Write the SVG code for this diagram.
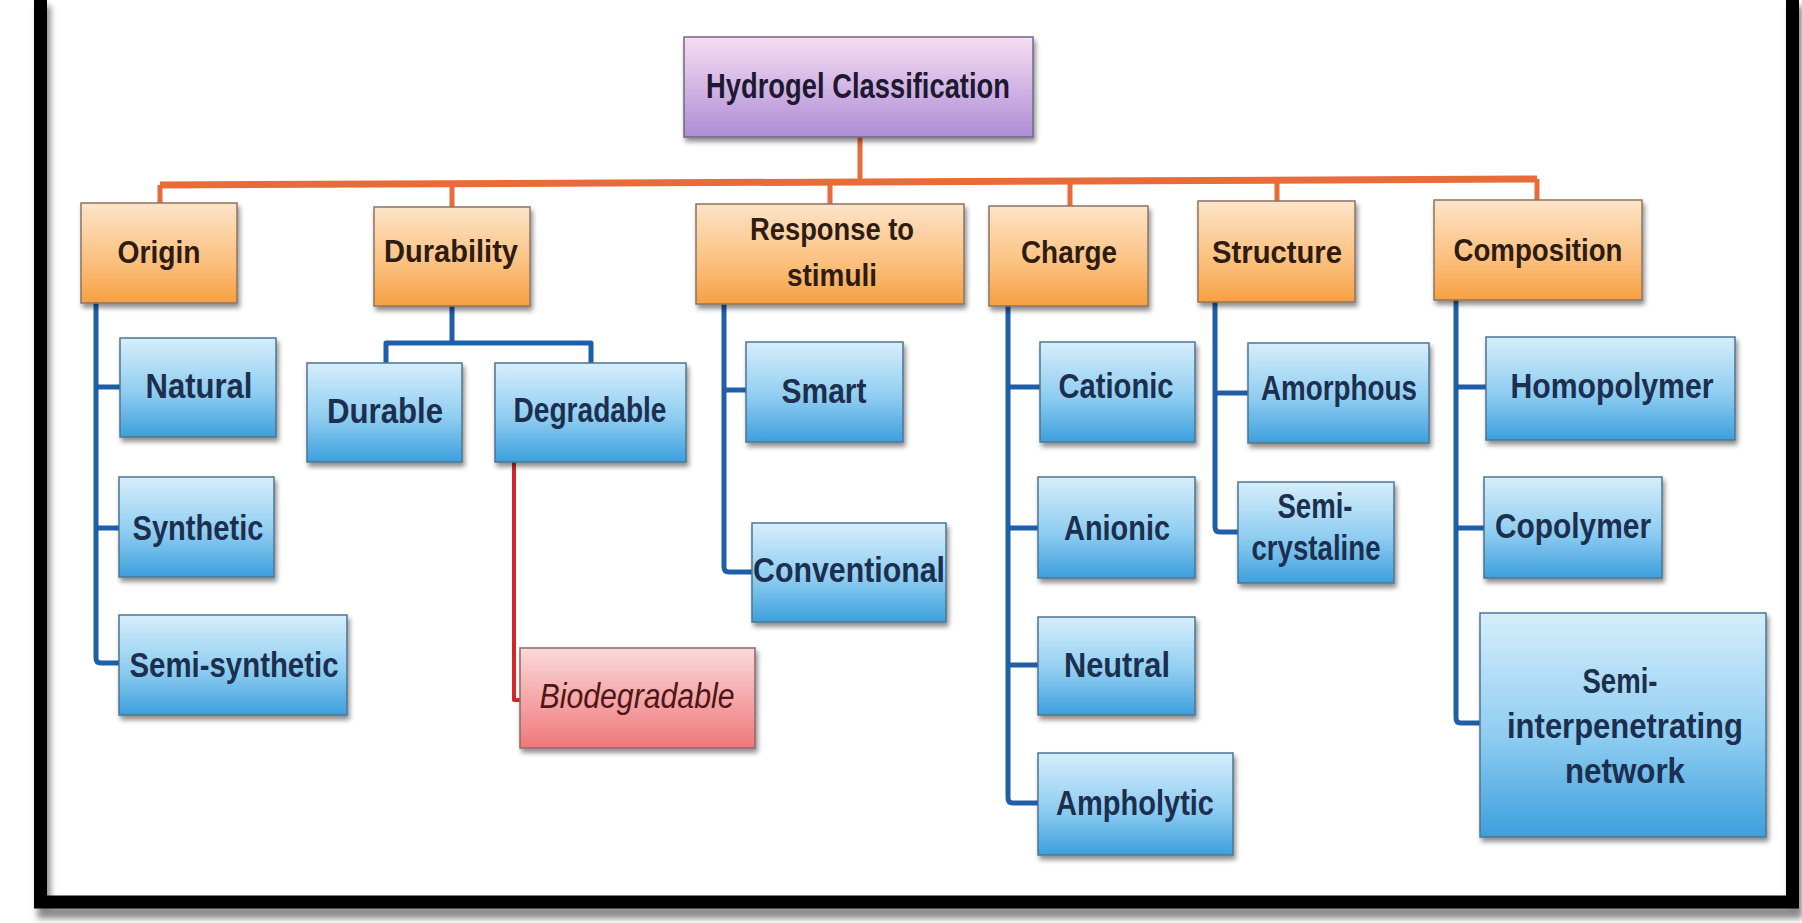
<svg xmlns="http://www.w3.org/2000/svg" width="1802" height="923" viewBox="0 0 1802 923">
<defs>
<linearGradient id="gBlue" x1="0" y1="0" x2="0" y2="1"><stop offset="0" stop-color="#d6eefb"/><stop offset="0.55" stop-color="#8fcdf1"/><stop offset="1" stop-color="#3c9fdd"/></linearGradient>
<linearGradient id="gOrange" x1="0" y1="0" x2="0" y2="1"><stop offset="0" stop-color="#fde4c8"/><stop offset="0.6" stop-color="#fbbf7c"/><stop offset="1" stop-color="#f6a043"/></linearGradient>
<linearGradient id="gPurple" x1="0" y1="0" x2="0" y2="1"><stop offset="0" stop-color="#f6def2"/><stop offset="1" stop-color="#ae8cd6"/></linearGradient>
<linearGradient id="gRed" x1="0" y1="0" x2="0" y2="1"><stop offset="0" stop-color="#fbd9d9"/><stop offset="1" stop-color="#f0777a"/></linearGradient>
<filter id="sh" x="-10%" y="-10%" width="125%" height="135%"><feDropShadow dx="2" dy="4" stdDeviation="2.5" flood-color="#000" flood-opacity="0.45"/></filter>
<filter id="blur" x="-5%" y="-5%" width="110%" height="110%"><feGaussianBlur stdDeviation="3"/></filter>
</defs>
<style>
.box rect{stroke-width:1.5}
.blue rect{fill:url(#gBlue);stroke:#4d7592;filter:url(#sh)}
.orange rect{fill:url(#gOrange);stroke:#8a7463;filter:url(#sh)}
.purple rect{fill:url(#gPurple);stroke:#6f6a80;filter:url(#sh)}
.red rect{fill:url(#gRed);stroke:#8a6a6a;filter:url(#sh)}
text{font-family:"Liberation Sans",Arial,sans-serif;font-weight:700;text-anchor:middle}
.blue text{fill:#1c2f4e;font-size:35px}
.orange text{fill:#2e1c12;font-size:32px}
.purple text{fill:#1e1830;font-size:35px}
.red text{fill:#4e1616;font-size:35px;font-style:italic;font-weight:400}
.co{fill:none;stroke-linejoin:round;stroke-linecap:butt}
.or{stroke:#e86c3a}
.bl{stroke:#1f5ea8;stroke-width:5}
.rd{stroke:#d3262a;stroke-width:4}
</style>
<rect width="1802" height="923" fill="#ffffff"/>
<!-- frame -->
<path d="M44 0 V906 H1796 V0" fill="none" stroke="#8a8a8a" stroke-width="13" filter="url(#blur)" transform="translate(0,6)"/>
<path d="M40.5 0 V902 H1792.5 V0" fill="none" stroke="#000" stroke-width="13"/>

<g id="connectors">
<path class="co or" stroke-width="7" d="M160 185 L1537 179"/>
<path class="co or" stroke-width="5" d="M860 137 V182 M160 185 V203 M452 184 V207 M830 182 V204 M1070 181 V206 M1277 180 V201 M1537 179 V200"/>
<path class="co bl" d="M96 303 V658 Q96 663 101 663 H120 M96 387 H120 M96 528 H119"/>
<path class="co bl" d="M452 306 V343 M386 363 V343 H591 V363"/>
<path class="co bl" d="M724 304 V567 Q724 572 729 572 H752 M724 390 H746"/>
<path class="co bl" d="M1008 306 V798 Q1008 803 1013 803 H1038 M1008 387 H1040 M1008 528 H1038 M1008 665 H1038"/>
<path class="co bl" d="M1215 302 V527 Q1215 532 1220 532 H1238 M1215 393 H1248"/>
<path class="co bl" d="M1456 300 V718 Q1456 723 1461 723 H1480 M1456 387 H1486 M1456 528 H1484"/>
<path class="co rd" d="M514 462 V700 H520"/>
</g>

<g id="n-hydrogel" class="box purple"><rect x="684" y="37" width="349" height="100"/><text x="858" y="98" textLength="304" lengthAdjust="spacingAndGlyphs">Hydrogel Classification</text></g>

<g id="n-origin" class="box orange"><rect x="81" y="203" width="156" height="100"/><text x="159" y="263" textLength="83" lengthAdjust="spacingAndGlyphs">Origin</text></g>
<g id="n-durability" class="box orange"><rect x="374" y="207" width="156" height="99"/><text x="451" y="262" textLength="134" lengthAdjust="spacingAndGlyphs">Durability</text></g>
<g id="n-response" class="box orange"><rect x="696" y="204" width="268" height="100"/><text x="832" y="240" textLength="164" lengthAdjust="spacingAndGlyphs">Response to</text><text x="832" y="286" textLength="90" lengthAdjust="spacingAndGlyphs">stimuli</text></g>
<g id="n-charge" class="box orange"><rect x="989" y="206" width="159" height="100"/><text x="1069" y="263" textLength="96" lengthAdjust="spacingAndGlyphs">Charge</text></g>
<g id="n-structure" class="box orange"><rect x="1198" y="201" width="157" height="101"/><text x="1277" y="263" textLength="130" lengthAdjust="spacingAndGlyphs">Structure</text></g>
<g id="n-composition" class="box orange"><rect x="1434" y="200" width="208" height="100"/><text x="1538" y="261" textLength="169" lengthAdjust="spacingAndGlyphs">Composition</text></g>

<g id="n-natural" class="box blue"><rect x="120" y="338" width="156" height="99"/><text x="199" y="398" textLength="107" lengthAdjust="spacingAndGlyphs">Natural</text></g>
<g id="n-synthetic" class="box blue"><rect x="119" y="477" width="155" height="100"/><text x="198" y="540" textLength="131" lengthAdjust="spacingAndGlyphs">Synthetic</text></g>
<g id="n-semisynthetic" class="box blue"><rect x="119" y="615" width="228" height="100"/><text x="234" y="677" textLength="209" lengthAdjust="spacingAndGlyphs">Semi-synthetic</text></g>

<g id="n-durable" class="box blue"><rect x="307" y="363" width="155" height="99"/><text x="385" y="423" textLength="116" lengthAdjust="spacingAndGlyphs">Durable</text></g>
<g id="n-degradable" class="box blue"><rect x="495" y="363" width="191" height="99"/><text x="590" y="422" textLength="153" lengthAdjust="spacingAndGlyphs">Degradable</text></g>
<g id="n-biodegradable" class="box red"><rect x="520" y="648" width="235" height="100"/><text x="637" y="708" textLength="195" lengthAdjust="spacingAndGlyphs">Biodegradable</text></g>

<g id="n-smart" class="box blue"><rect x="746" y="342" width="157" height="100"/><text x="824" y="403" textLength="85" lengthAdjust="spacingAndGlyphs">Smart</text></g>
<g id="n-conventional" class="box blue"><rect x="752" y="523" width="194" height="99"/><text x="849" y="582" textLength="192" lengthAdjust="spacingAndGlyphs">Conventional</text></g>

<g id="n-cationic" class="box blue"><rect x="1040" y="342" width="155" height="100"/><text x="1116" y="398" textLength="115" lengthAdjust="spacingAndGlyphs">Cationic</text></g>
<g id="n-anionic" class="box blue"><rect x="1038" y="477" width="157" height="101"/><text x="1117" y="540" textLength="106" lengthAdjust="spacingAndGlyphs">Anionic</text></g>
<g id="n-neutral" class="box blue"><rect x="1038" y="617" width="157" height="98"/><text x="1117" y="677" textLength="106" lengthAdjust="spacingAndGlyphs">Neutral</text></g>
<g id="n-ampholytic" class="box blue"><rect x="1038" y="753" width="195" height="102"/><text x="1135" y="815" textLength="158" lengthAdjust="spacingAndGlyphs">Ampholytic</text></g>

<g id="n-amorphous" class="box blue"><rect x="1248" y="343" width="181" height="100"/><text x="1339" y="400" textLength="156" lengthAdjust="spacingAndGlyphs">Amorphous</text></g>
<g id="n-semicrystaline" class="box blue"><rect x="1238" y="482" width="156" height="101"/><text x="1315" y="518" textLength="75" lengthAdjust="spacingAndGlyphs">Semi-</text><text x="1316" y="560" textLength="129" lengthAdjust="spacingAndGlyphs">crystaline</text></g>

<g id="n-homopolymer" class="box blue"><rect x="1486" y="337" width="249" height="103"/><text x="1612" y="398" textLength="203" lengthAdjust="spacingAndGlyphs">Homopolymer</text></g>
<g id="n-copolymer" class="box blue"><rect x="1484" y="477" width="178" height="101"/><text x="1573" y="538" textLength="156" lengthAdjust="spacingAndGlyphs">Copolymer</text></g>
<g id="n-semiipn" class="box blue"><rect x="1480" y="613" width="286" height="224"/><text x="1620" y="693" textLength="75" lengthAdjust="spacingAndGlyphs">Semi-</text><text x="1625" y="738" textLength="236" lengthAdjust="spacingAndGlyphs">interpenetrating</text><text x="1625" y="783" textLength="120" lengthAdjust="spacingAndGlyphs">network</text></g>
</svg>
